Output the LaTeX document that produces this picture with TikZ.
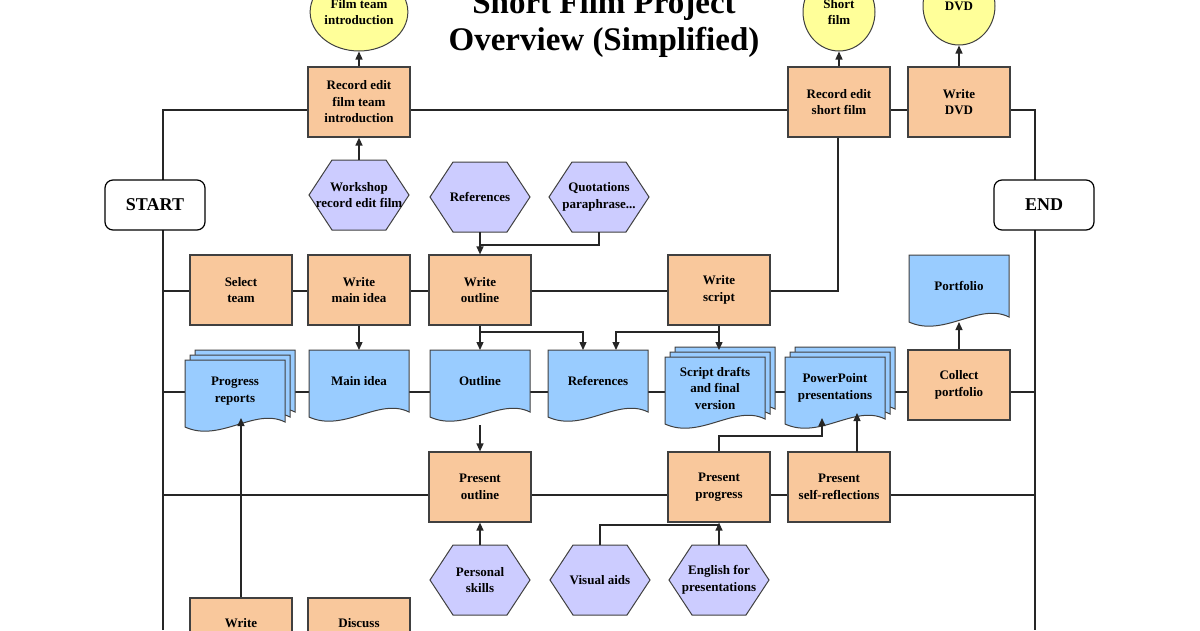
\documentclass[tikz,border=0pt]{standalone}
\usepackage{fontspec}
\setmainfont{Liberation Serif}
\usetikzlibrary{arrows.meta,shapes.geometric}
\definecolor{boxc}{HTML}{F9C89C}
\definecolor{hexc}{HTML}{CCCCFF}
\definecolor{docc}{HTML}{99CCFF}
\definecolor{ellc}{HTML}{FFFF99}
\newcommand\mydoc[4]{%
 \path[docsh] (#2-50,#3-35) -- (#2+50,#3-35) -- (#2+50,#3+27) .. controls (#2+20,#3+12) and (#2-15,#3+48) .. (#2-50,#3+32) -- cycle;
 \node[txt] (#1) at (#2,#3-4) {#4};}
\newcommand\mystack[4]{%
 \path[docsh] (#2-40,#3-45) -- (#2+60,#3-45) -- (#2+60,#3+17) .. controls (#2+30,#3+2) and (#2-5,#3+38) .. (#2-40,#3+22) -- cycle;
 \path[docsh] (#2-45,#3-40) -- (#2+55,#3-40) -- (#2+55,#3+22) .. controls (#2+25,#3+7) and (#2-10,#3+43) .. (#2-45,#3+27) -- cycle;
 \mydoc{#1}{#2}{#3}{#4}}
\newcommand\myhex[4]{%
 \path[hexsh] (#2-50,#3) -- (#2-27,#3-35) -- (#2+27,#3-35) -- (#2+50,#3) -- (#2+27,#3+35) -- (#2-27,#3+35) -- cycle;
 \node[txt] (#1) at (#2,#3) {#4};}
\begin{document}
\begin{tikzpicture}[x=1pt,y=-1pt,
 txt/.style={align=center,font=\fontsize{13}{16.5}\selectfont\bfseries,inner sep=0pt},
 box/.style={txt,draw=black!75,line width=1.2pt,fill=boxc,minimum width=102pt,minimum height=70pt},
 docsh/.style={draw=black!75,line width=1pt,fill=docc},
 hexsh/.style={draw=black!75,line width=1pt,fill=hexc},
 ell/.style={txt,draw=black!75,line width=1pt,fill=ellc,ellipse,minimum width=72pt,minimum height=78pt},
 term/.style={draw=black,line width=1.2pt,fill=white,rounded corners=8pt,minimum width=100pt,minimum height=50pt,font=\fontsize{18}{21}\selectfont\bfseries},
 ln/.style={line width=1.3pt,black!85},
 arr/.style={ln,-{Triangle[length=8pt,width=7pt]}}]
\useasboundingbox (0,0) rectangle (1200,630);
\fill[white] (0,0) rectangle (1200,630);
% frame lines
\draw[ln] (163,630) -- (163,110) -- (1035,110) -- (1035,630);
\draw[ln] (163,291) -- (838,291) -- (838,130);
\draw[ln] (163,392) -- (1035,392);
\draw[ln] (163,495) -- (1035,495);
% title
\node[font=\fontsize{33}{37}\selectfont\bfseries,align=center] (title) at (604,24) {Short Film Project\\Overview (Simplified)};
% terminals
\node[term] (start) at (155,205) {START};
\node[term] (end) at (1044,205) {END};
% ellipses
\node[ell] (e1) at (359,12) {Film team\\introduction};
\node[ell] (e2) at (839,12) {Short\\film};
\node[ell] (e3) at (959,6) {DVD};
% boxes
\node[box] (b1) at (359,102) {Record edit\\film team\\introduction};
\node[box] (b2) at (839,102) {Record edit\\short film};
\node[box] (b3) at (959,102) {Write\\DVD};
\node[box] (st) at (241,290) {Select\\team};
\node[box] (wmi) at (359,290) {Write\\main idea};
\node[box] (wo) at (480,290) {Write\\outline};
\node[box] (ws) at (719,290) {Write\\script};
\node[box] (cp) at (959,385) {Collect\\portfolio};
\node[box] (po) at (480,487) {Present\\outline};
\node[box] (pp) at (719,487) {Present\\progress};
\node[box] (psr) at (839,487) {Present\\self-reflections};
\node[box] (wr) at (241,633) {Write\\reports};
\node[box] (dc) at (359,633) {Discuss\\progress and};
% hexagons
\myhex{h1}{359}{195}{Workshop\\record edit film}
\myhex{h2}{480}{197}{References}
\myhex{h3}{599}{197}{Quotations\\paraphrase...}
\myhex{h4}{480}{580}{Personal\\skills}
\myhex{h5}{600}{580}{Visual aids}
\myhex{h6}{719}{580}{English for\\presentations}
% documents
\mydoc{d1}{359}{385}{Main idea}
\mydoc{d2}{480}{385}{Outline}
\mydoc{d3}{598}{385}{References}
\mystack{d4}{235}{395}{Progress\\reports}
\mystack{d5}{715}{392}{Script drafts\\and final\\version}
\mystack{d6}{835}{392}{PowerPoint\\presentations}
\mydoc{d7}{959}{290}{Portfolio}
% connectors
\draw[arr] (b1.north) -- (b1.north |- e1.south);
\draw[arr] (b2.north) -- (b2.north |- e2.south);
\draw[arr] (b3.north) -- (b3.north |- e3.south);
\draw[arr] (359,160) -- (b1.south);
\draw[arr] (480,232) -- (wo.north);
\draw[ln] (599,232) -- (599,245) -- (480,245);
\draw[arr] (wmi.south) -- (359,350);
\draw[arr] (wo.south) -- (480,350);
\draw[arr] (480,332) -- (583,332) -- (583,350);
\draw[arr] (ws.south) -- (719,350);
\draw[arr] (719,332) -- (616,332) -- (616,350);
\draw[arr] (480,425) -- (po.north);
\draw[arr] (480,545) -- (po.south);
\draw[ln] (600,545) -- (600,525) -- (719,525);
\draw[arr] (719,545) -- (pp.south);
\draw[arr] (pp.north) -- (719,436) -- (822,436) -- (822,418);
\draw[arr] (857,452) -- (857,413);
\draw[arr] (cp.north) -- (959,322);
\draw[arr] (wr.north) -- (241,418);
\end{tikzpicture}
\end{document}
